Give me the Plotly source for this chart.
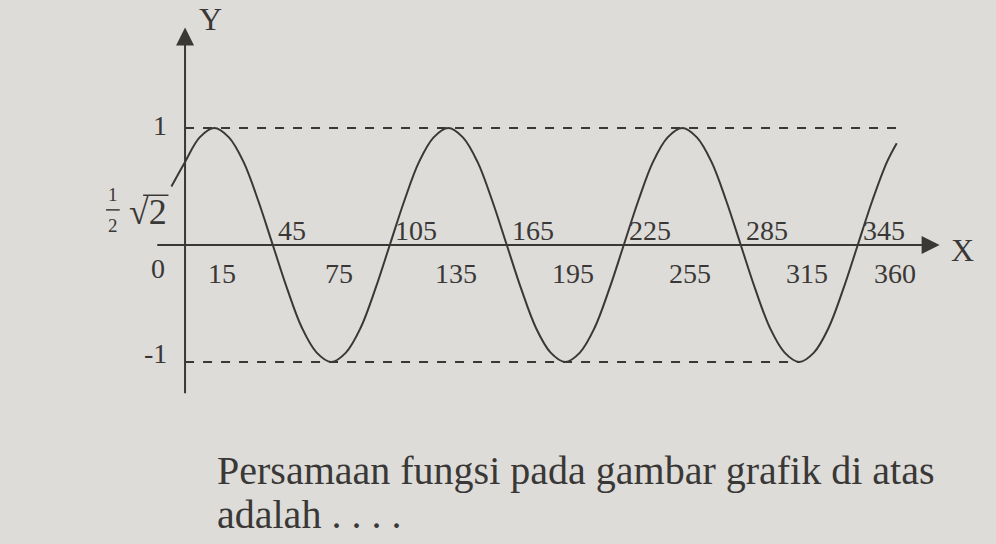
import plotly.graph_objects as go

# titik-titik kurva (derajat, nilai y)
sudut = [-7, 0, 7.5, 15, 22.5, 30, 37.5, 45, 52.5, 60, 67.5, 75, 82.5, 90, 97.5,
         105, 112.5, 120, 127.5, 135, 142.5, 150, 157.5, 165, 172.5, 180, 187.5,
         195, 202.5, 210, 217.5, 225, 232.5, 240, 247.5, 255, 262.5, 270, 277.5,
         285, 292.5, 300, 307.5, 315, 322.5, 330, 337.5, 345, 352.5, 360, 365]
nilai = [0.5, 0.71, 0.92, 1, 0.92, 0.71, 0.38, 0, -0.38, -0.71, -0.92, -1, -0.92, -0.71, -0.38,
         0, 0.38, 0.71, 0.92, 1, 0.92, 0.71, 0.38, 0, -0.38, -0.71, -0.92,
         -1, -0.92, -0.71, -0.38, 0, 0.38, 0.71, 0.92, 1, 0.92, 0.71, 0.38,
         0, -0.38, -0.71, -0.92, -1, -0.92, -0.71, -0.38, 0, 0.38, 0.71, 0.87]

# label sumbu x
label_atas = [45, 105, 165, 225, 285, 345]
label_bawah = [15, 75, 135, 195, 255, 315, 360]

teks_soal = ["Persamaan fungsi pada gambar grafik di atas", "adalah . . . ."]

warna = "#3a3836"
latar = "#dddcd9"
huruf = "Liberation Serif"

fig = go.Figure()
fig.add_trace(go.Scatter(x=sudut, y=nilai, mode="lines",
                         line=dict(color=warna, width=2, shape="spline", smoothing=1.0),
                         hoverinfo="skip"))

# garis putus-putus y = 1 dan y = -1
fig.add_shape(type="line", x0=0, x1=368, y0=1, y1=1,
              line=dict(color=warna, width=2, dash="dash"))
fig.add_shape(type="line", x0=0, x1=315, y0=-1, y1=-1,
              line=dict(color=warna, width=2, dash="dash"))

# sumbu X dan Y dengan panah
fig.add_annotation(x=387, y=0, ax=-15, ay=0, axref="x", ayref="y", xref="x", yref="y",
                   showarrow=True, arrowhead=2, arrowsize=1.8, arrowwidth=2,
                   arrowcolor=warna, text="")
fig.add_annotation(x=0, y=1.86, ax=0, ay=-1.28, axref="x", ayref="y", xref="x", yref="y",
                   showarrow=True, arrowhead=2, arrowsize=1.8, arrowwidth=2,
                   arrowcolor=warna, text="")

def tulis(x, y, t, size=28, xanchor="center", yanchor="middle"):
    fig.add_annotation(x=x, y=y, text=t, showarrow=False, xanchor=xanchor, yanchor=yanchor,
                       font=dict(family=huruf, size=size, color=warna))

tulis(392, -0.04, "X", size=32, xanchor="left")
tulis(13, 1.93, "Y", size=32)

for v in label_atas:
    tulis(v + 1.5, 0.12, str(v), xanchor="left")
for v in label_bawah:
    tulis(v + 4, -0.24, str(v))

tulis(-9, -0.2, "0", xanchor="right")
tulis(-8, 1.02, "1", xanchor="right")
tulis(-8, -0.93, "-1", xanchor="right")

# label 1/2 akar 2
tulis(-37, 0.43, "1", size=19)
tulis(-37, 0.17, "2", size=19)
fig.add_shape(type="line", x0=-40.5, x1=-33.5, y0=0.30, y1=0.30, line=dict(color=warna, width=1.5))
tulis(-19, 0.28, "\u221a2", size=36)
fig.add_shape(type="line", x0=-21.5, x1=-8.5, y0=0.425, y1=0.425, line=dict(color=warna, width=1.5))

# teks soal di bawah grafik
fig.add_annotation(x=15.4, y=-1.93, text=teks_soal[0], showarrow=False, xanchor="left",
                   font=dict(family=huruf, size=40, color=warna))
fig.add_annotation(x=15.4, y=-2.30, text=teks_soal[1], showarrow=False, xanchor="left",
                   font=dict(family=huruf, size=40, color=warna))

fig.update_xaxes(range=[-94.9, 415.9], visible=False)
fig.update_yaxes(range=[-2.556, 2.094], visible=False)
fig.update_layout(width=996, height=544, margin=dict(l=0, r=0, t=0, b=0),
                  showlegend=False, plot_bgcolor=latar, paper_bgcolor=latar)

fig.write_html("out.html", config={"displayModeBar": False},
               post_script="document.body.style.margin='0';"
                           "document.body.style.overflow='hidden';"
                           "document.body.style.background='" + latar + "';")
